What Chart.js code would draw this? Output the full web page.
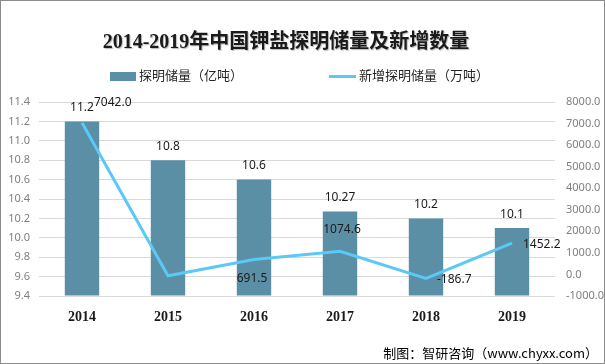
<!DOCTYPE html>
<html>
<head>
<meta charset="utf-8">
<script src="https://cdn.jsdelivr.net/npm/chart.js@4/dist/chart.umd.min.js"></script>
<style>
    html, body { margin: 0; padding: 0; background: #fff; }
    #wrap { position: relative; width: 605px; height: 364px; box-sizing: border-box; border: 1px solid #8c8c8c; overflow: hidden; }
    #chart { position: absolute; left: 0; top: 0; }
    .title { position: absolute; left: 0; width: 570px; top: 24px; text-align: center; font: bold 20px "Liberation Serif", "Noto Sans CJK SC", serif; color: #1a1a1a; text-shadow: 1px 1px 1px #bbb; }
    .legend { position: absolute; top: 64px; font: 13px "Noto Sans CJK SC", sans-serif; color: #262626; }
    .legend span.sw { display: inline-block; vertical-align: middle; margin-right: 3px; }
    .footer { position: absolute; right: 6px; top: 342px; font: 13px "Noto Sans CJK SC", sans-serif; color: #000; }
</style>
</head>
<body>
<div id="wrap">
    <canvas id="chart" width="603" height="362"></canvas>
    <div class="title">2014-2019年中国钾盐探明储量及新增数量</div>
    <div class="legend" style="left:109px"><span class="sw" style="width:26px;height:9px;background:#5b8fa6"></span>探明储量（亿吨）</div>
    <div class="legend" style="left:328px"><span class="sw" style="width:27px;height:3px;background:#5bc8f5"></span>新增探明储量（万吨）</div>
    <div class="footer">制图：智研咨询（www.chyxx.com）</div>
</div>
<script>
const years = ['2014', '2015', '2016', '2017', '2018', '2019'];
const reserves = [11.2, 10.8, 10.6, 10.27, 10.2, 10.1];
const newReserves = [7042.0, -60, 691.5, 1074.6, -186.7, 1452.2];
const leftTicks = [9.4, 11.4, 0.2];
const rightTicks = [-1000, 8000, 1000];
// where each line value label sits relative to its point
const lineLabelPos = ['upright', 'none', 'below', 'above', 'right', 'right'];

const barColor = '#5b8fa6';
const lineColor = '#5bc8f5';

const dataLabelPlugin = {
    id: 'dataLabels',
    afterDatasetsDraw: (chart) => {
        const { ctx } = chart;
        ctx.save();
        ctx.font = '12px "Noto Sans", sans-serif';
        ctx.fillStyle = '#1a1a1a';
        ctx.textBaseline = 'middle';

        const barMeta = chart.getDatasetMeta(1);
        barMeta.data.forEach((bar, i) => {
            ctx.textAlign = 'center';
            ctx.fillText(String(reserves[i]), bar.x, bar.y - 14);
        });

        const lineMeta = chart.getDatasetMeta(0);
        lineMeta.data.forEach((pt, i) => {
            const txt = newReserves[i].toFixed(1);
            const pos = lineLabelPos[i];
            if (pos === 'none') return;
            if (pos === 'upright') {
                ctx.textAlign = 'left';
                ctx.fillText(txt, pt.x + 12, pt.y - 20);
            } else if (pos === 'below') {
                ctx.textAlign = 'center';
                ctx.fillText(txt, pt.x - 2, pt.y + 19);
            } else if (pos === 'above') {
                ctx.textAlign = 'center';
                ctx.fillText(txt, pt.x + 2, pt.y - 22);
            } else {
                ctx.textAlign = 'left';
                ctx.fillText(txt, pt.x + 11, pt.y + 1);
            }
        });
        ctx.restore();
    }
};

new Chart(document.getElementById('chart'), {
    type: 'bar',
    data: {
        labels: years,
        datasets: [
            {
                type: 'line',
                label: '新增探明储量（万吨）',
                data: newReserves,
                yAxisID: 'y1',
                borderColor: lineColor,
                borderWidth: 3,
                pointRadius: 0,
                tension: 0,
                order: 0
            },
            {
                label: '探明储量（亿吨）',
                data: reserves,
                yAxisID: 'y',
                backgroundColor: barColor,
                barPercentage: 0.4,
                categoryPercentage: 1.0,
                base: leftTicks[0],
                order: 1
            }
        ]
    },
    options: {
        responsive: false,
        animation: false,
        layout: { padding: { top: 101, left: 0, right: 0, bottom: 0 } },
        plugins: { legend: { display: false }, tooltip: { enabled: false } },
        scales: {
            x: {
                grid: { display: false, drawTicks: false },
                border: { display: false },
                ticks: { color: '#1a1a1a', padding: 13, font: { family: '"Liberation Serif", serif', size: 14, weight: 'bold' } },
                afterFit: (s) => { s.height = 67; }
            },
            y: {
                position: 'left',
                min: leftTicks[0],
                max: leftTicks[1],
                grid: { color: '#d9d9d9', drawTicks: false },
                border: { display: false },
                ticks: { stepSize: leftTicks[2], color: '#808080', padding: 9, font: { family: '"Noto Sans", sans-serif', size: 11 }, callback: (v) => v.toFixed(1) },
                afterFit: (s) => { s.width = 38; }
            },
            y1: {
                position: 'right',
                min: rightTicks[0],
                max: rightTicks[1],
                grid: { display: false, drawTicks: false },
                border: { display: false },
                ticks: { stepSize: rightTicks[2], color: '#808080', padding: 11, font: { family: '"Noto Sans", sans-serif', size: 11 }, callback: (v) => v.toFixed(1) },
                afterFit: (s) => { s.width = 49; }
            }
        }
    },
    plugins: [dataLabelPlugin]
});
</script>
</body>
</html>
